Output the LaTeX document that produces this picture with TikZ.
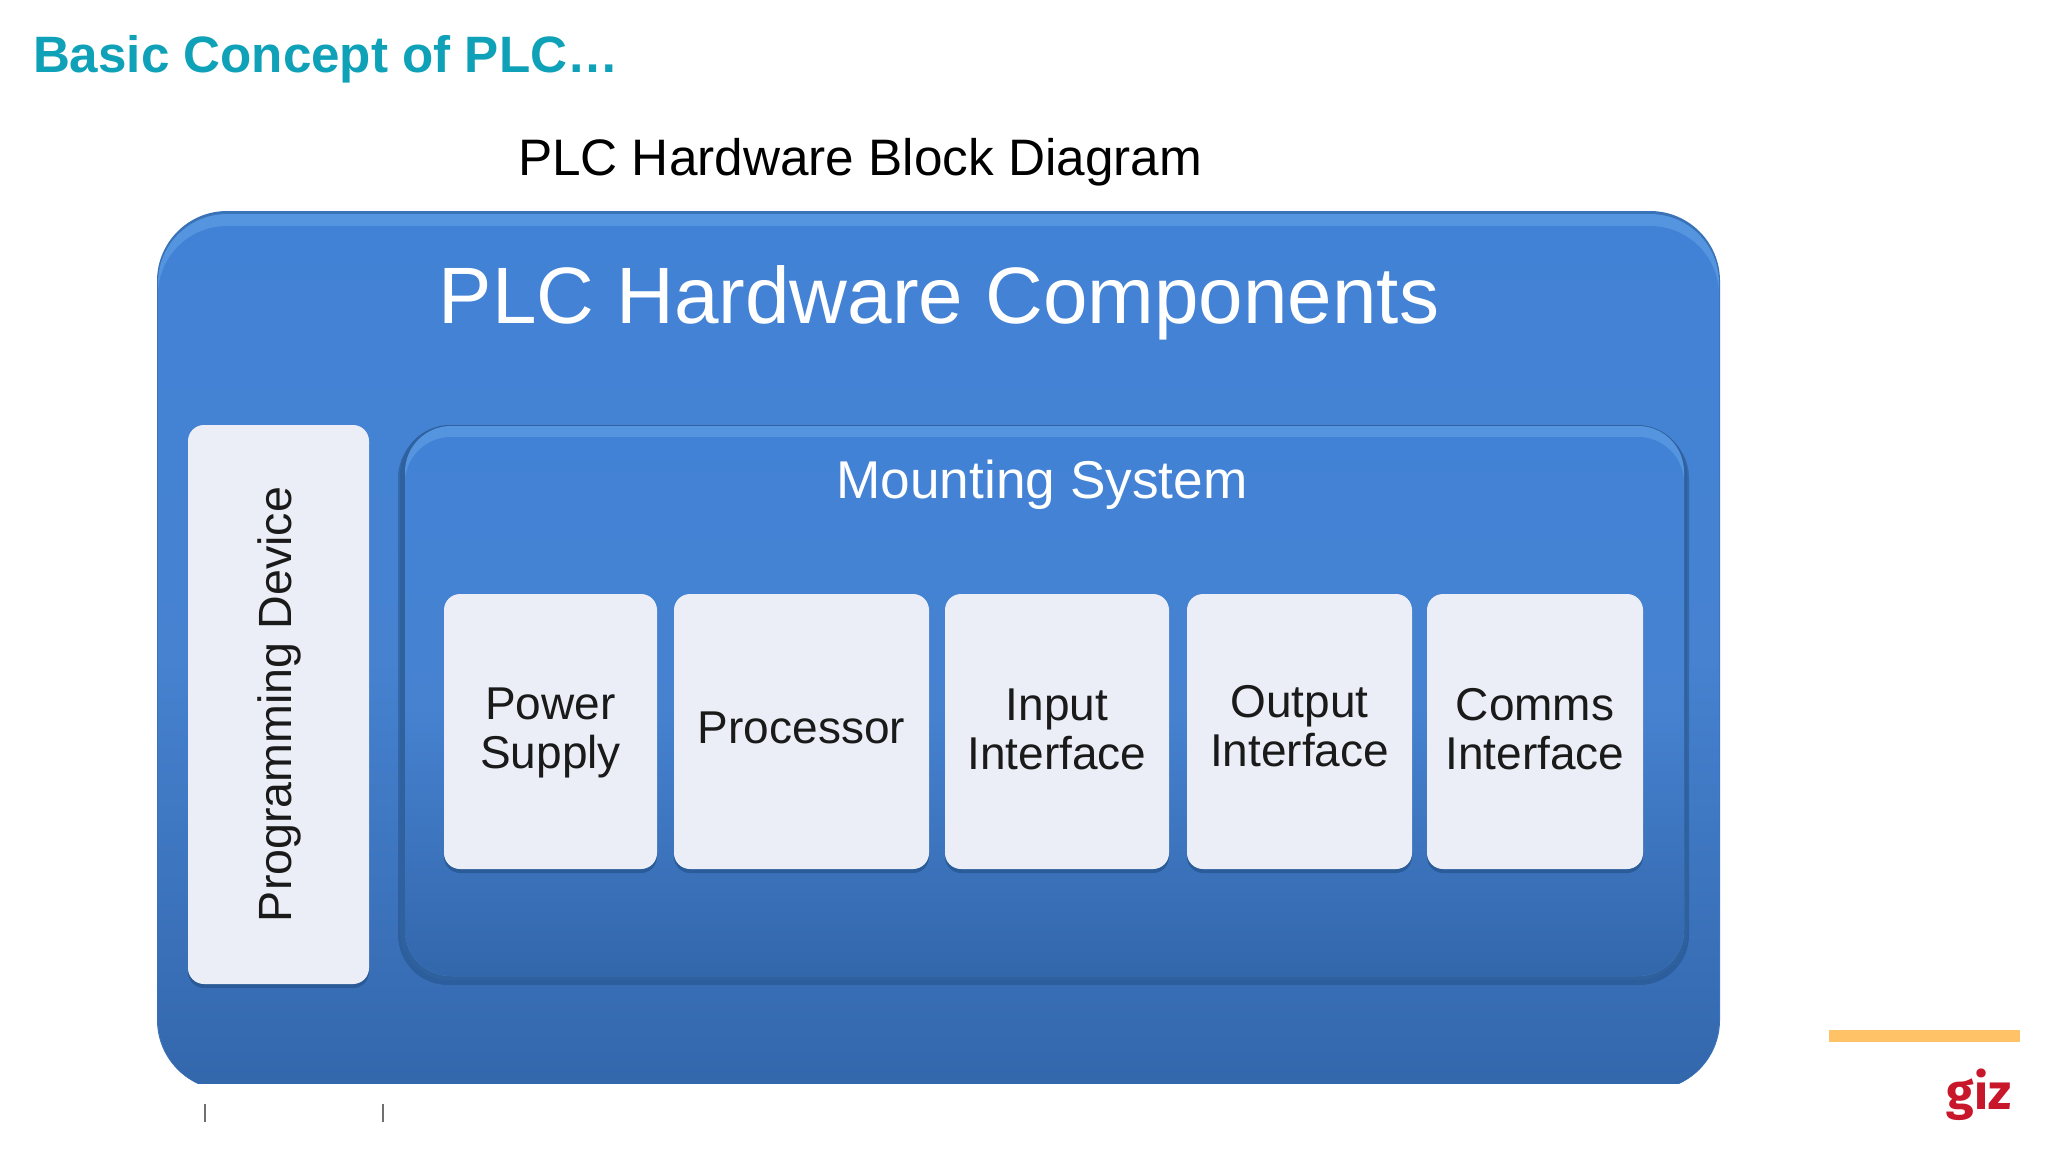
\documentclass[tikz,border=0pt]{standalone}
\usepackage{fontspec}
\setmainfont{Liberation Sans}
\newfontfamily\gizfont{Fira Sans}[UprightFont=* Bold]
\usetikzlibrary{shadows}
\definecolor{teal1}{HTML}{0EA1B8}
\definecolor{edgeblue}{HTML}{3A72B8}
\definecolor{glow}{HTML}{5595E0}
\definecolor{topblue}{HTML}{4282D6}
\definecolor{midblue}{HTML}{4682D0}
\definecolor{lowblue}{HTML}{3367AC}
\definecolor{cardfill}{HTML}{EBEEF6}
\definecolor{barorange}{HTML}{FFC266}
\definecolor{gizred}{HTML}{C8172B}
\definecolor{inktext}{HTML}{1A1A1A}
\definecolor{tickgray}{HTML}{707070}
\definecolor{shadowblue}{HTML}{1F4B80}
\definecolor{inneredge}{HTML}{2F619F}
\tikzset{
  x=1pt,y=-1pt,
  panel/.style={rectangle,inner sep=0pt,outer sep=0pt},
  card/.style={panel,fill=cardfill,rounded corners=16pt,text=inktext,align=center,
    font=\fontsize{46}{49}\selectfont,
    drop shadow={shadow xshift=0pt,shadow yshift=-4pt,opacity=.55,fill=shadowblue}},
  caption/.style={inner sep=0pt,outer sep=0pt,anchor=base},
}
\newcommand{\boxat}[6]{% name, x0,y0,x1,y1, opts
  \path (#2,#3) -- (#4,#5) node[panel,midway,sloped=false,minimum width=#4pt-#2pt,minimum height=#5pt-#3pt,#6] (#1) {};}
\newcommand{\lifted}[2]{\raisebox{#1}[\height][\depth]{\begin{tabular}{@{}c@{}}#2\end{tabular}}}
\begin{document}
\begin{tikzpicture}
\useasboundingbox (0,0) rectangle (2048,1152);
\fill[white] (0,0) rectangle (2048,1152);
\begin{scope}
\clip (0,0) rectangle (2048,1083);
\boxat{outeredge}{157}{211}{1720}{1090}{rounded corners=70pt,fill=edgeblue}
\boxat{outerglow}{158}{214}{1719}{1090}{rounded corners=69pt,fill=glow}
\boxat{outerbody}{158}{226}{1719}{1090}{rounded corners=69pt,top color=topblue,bottom color=lowblue,middle color=midblue}
\end{scope}
\boxat{mountshadow}{398}{428}{1689}{985}{rounded corners=50pt,fill=shadowblue,opacity=.45}
\boxat{mountedge}{400}{425}{1687}{980}{rounded corners=50pt,fill=inneredge}
\boxat{mountglow}{405}{426}{1684}{976}{rounded corners=46pt,fill=glow}
\boxat{mountbody}{405}{437}{1684}{976}{rounded corners=46pt,top color=topblue,bottom color=lowblue,middle color=midblue}
\node[card,minimum width=181pt,minimum height=559pt] (prog) at (278.5,704.5)
  {\raisebox{0pt}{\hspace{2pt}\rotatebox{90}{\fontsize{46.6}{49}\selectfont Programming Device}}};
\node[card,minimum width=213pt,minimum height=275pt] (power) at (550.5,731.5) {\lifted{-3pt}{Power\\Supply}};
\node[card,minimum width=255pt,minimum height=275pt] (proc) at (801.5,731.5) {\lifted{-2.5pt}{Processor}};
\node[card,minimum width=224pt,minimum height=275pt] (input) at (1057,731.5) {\lifted{-3.5pt}{Input\\Interface}};
\node[card,minimum width=225pt,minimum height=275pt] (output) at (1299.5,731.5) {\lifted{-1pt}{Output\\Interface}};
\node[card,minimum width=216pt,minimum height=275pt] (comms) at (1535,731.5) {\lifted{-3.5pt}{Comms\\Interface}};
\node[caption,text=teal1,font=\fontsize{51.15}{60}\selectfont\bfseries,anchor=base west] (slidetitle) at (33,72) {Basic Concept of PLC…};
\node[caption,text=black,font=\fontsize{51.3}{60}\selectfont,anchor=base west] (subtitle) at (518,175) {PLC Hardware Block Diagram};
\node[caption,text=white,font=\fontsize{80}{90}\selectfont] (comp) at (939,323) {PLC Hardware Components};
\node[caption,text=white,font=\fontsize{53.2}{60}\selectfont] (mount) at (1042,498.5) {Mounting System};
\fill[barorange] (1829,1030) rectangle (2020,1042);
\node[caption,text=gizred,font=\fontsize{50}{50}\gizfont\selectfont] (giz) at (1979,1109) {giz};
\coordinate (ta) at (205,1104); \coordinate (tb) at (205,1122);
\coordinate (tc) at (383,1104); \coordinate (td) at (383,1122);
\draw[tickgray,line width=1.6pt] (ta) -- (tb);
\draw[tickgray,line width=1.6pt] (tc) -- (td);
\end{tikzpicture}
\end{document}
